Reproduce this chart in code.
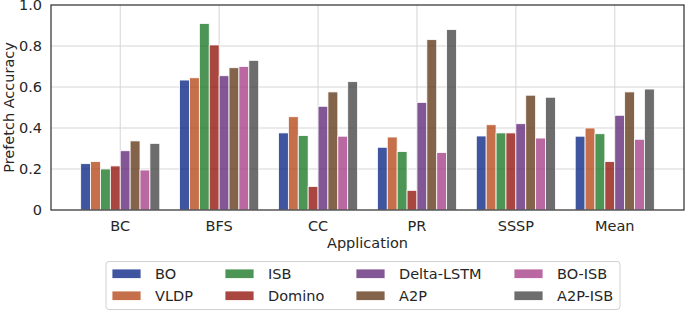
<!DOCTYPE html>
<html>
<head>
<meta charset="utf-8">
<script src="https://cdn.jsdelivr.net/npm/d3@7"></script>
<style>
  body { margin: 0; background: #fff; }
  text { font-family: "DejaVu Sans", sans-serif; fill: #262626; }
</style>
</head>
<body>
<div id="chart"></div>
<script>
const width = 685;
const height = 311;

const categories = ["BC", "BFS", "CC", "PR", "SSSP", "Mean"];
const seriesNames = ["BO", "VLDP", "ISB", "Domino", "Delta-LSTM", "A2P", "BO-ISB", "A2P-ISB"];
const seriesColors = ["#001c7f", "#b1400d", "#12711c", "#8c0800", "#591e71", "#592f0d", "#a23582", "#3c3c3c"];

// one array per series, values in category order
const BO = [0.226, 0.634, 0.376, 0.306, 0.361, 0.36];
const VLDP = [0.236, 0.645, 0.455, 0.356, 0.416, 0.40];
const ISB = [0.20, 0.91, 0.363, 0.285, 0.376, 0.372];
const Domino = [0.215, 0.805, 0.115, 0.096, 0.376, 0.236];
const DeltaLSTM = [0.289, 0.655, 0.506, 0.525, 0.421, 0.462];
const A2P = [0.337, 0.694, 0.576, 0.831, 0.56, 0.576];
const BOISB = [0.195, 0.70, 0.36, 0.28, 0.351, 0.345];
const A2PISB = [0.325, 0.73, 0.626, 0.88, 0.55, 0.59];
const seriesValues = [BO, VLDP, ISB, Domino, DeltaLSTM, A2P, BOISB, A2PISB];

const yTicks = [0, 0.2, 0.4, 0.6, 0.8, 1.0];

const margin = { left: 51, right: 1, top: 5, bottom: 101 };
const fontSize = "14.5px";

const svg = d3
  .select("#chart")
  .append("svg")
  .attr("width", width)
  .attr("height", height);

const x = d3
  .scaleLinear()
  .domain([-0.7, categories.length - 0.3])
  .range([margin.left, width - margin.right]);

const y = d3
  .scaleLinear()
  .domain([0, 1])
  .range([height - margin.bottom, margin.top]);

const barW = 0.1;

// grid lines
svg
  .append("g")
  .selectAll("line.hgrid")
  .data(yTicks.slice(1, -1))
  .enter()
  .append("line")
  .attr("x1", x.range()[0])
  .attr("x2", x.range()[1])
  .attr("y1", (d) => y(d))
  .attr("y2", (d) => y(d))
  .attr("stroke", "#d5d5d5")
  .attr("stroke-width", 1);

svg
  .append("g")
  .selectAll("line.vgrid")
  .data(categories)
  .enter()
  .append("line")
  .attr("x1", (d, i) => x(i))
  .attr("x2", (d, i) => x(i))
  .attr("y1", y(0))
  .attr("y2", y(1))
  .attr("stroke", "#d5d5d5")
  .attr("stroke-width", 1);

// bars
seriesValues.forEach((vals, s) => {
  svg
    .append("g")
    .selectAll("rect")
    .data(vals)
    .enter()
    .append("rect")
    .attr("x", (d, i) => x(i - 0.4 + s * barW))
    .attr("y", (d) => y(d))
    .attr("width", x(barW) - x(0))
    .attr("height", (d) => y(0) - y(d))
    .attr("fill", seriesColors[s])
    .attr("fill-opacity", 0.75)
    .attr("stroke", "#fff")
    .attr("stroke-width", 0.8);
});

// frame
svg
  .append("rect")
  .attr("x", x.range()[0])
  .attr("y", y(1))
  .attr("width", x.range()[1] - x.range()[0])
  .attr("height", y(0) - y(1))
  .attr("fill", "none")
  .attr("stroke", "#333")
  .attr("stroke-width", 1.25);

// y tick labels
svg
  .append("g")
  .selectAll("text")
  .data(yTicks)
  .enter()
  .append("text")
  .attr("x", x.range()[0] - 9)
  .attr("y", (d) => y(d))
  .attr("dy", "0.36em")
  .style("text-anchor", "end")
  .style("font-size", fontSize)
  .text((d) => (d === 0 ? "0" : d.toFixed(1)));

// x tick labels
svg
  .append("g")
  .selectAll("text")
  .data(categories)
  .enter()
  .append("text")
  .attr("x", (d, i) => x(i))
  .attr("y", 230.5)
  .style("text-anchor", "middle")
  .style("font-size", fontSize)
  .text((d) => d);

// axis titles
svg
  .append("text")
  .attr("x", (x.range()[0] + x.range()[1]) / 2)
  .attr("y", 248)
  .style("text-anchor", "middle")
  .style("font-size", fontSize)
  .text("Application");

svg
  .append("text")
  .attr("transform", `translate(14, ${(y(0) + y(1)) / 2}) rotate(-90)`)
  .style("text-anchor", "middle")
  .style("font-size", fontSize)
  .text("Prefetch Accuracy");

// legend
const legend = svg.append("g");
legend
  .append("rect")
  .attr("x", 106)
  .attr("y", 261.5)
  .attr("width", 514)
  .attr("height", 48)
  .attr("rx", 3)
  .attr("fill", "#fff")
  .attr("stroke", "#d0d0d0")
  .attr("stroke-width", 1);

const colX = [112, 225, 356, 514];
const rowY = [273.5, 295.5];

const items = legend
  .selectAll("g.item")
  .data(seriesNames)
  .enter()
  .append("g")
  .attr("transform", (d, i) => `translate(${colX[Math.floor(i / 2)]}, ${rowY[i % 2]})`);

items
  .append("rect")
  .attr("x", 0)
  .attr("y", -4.5)
  .attr("width", 29)
  .attr("height", 9.5)
  .attr("fill", (d, i) => seriesColors[i])
  .attr("fill-opacity", 0.75)
  .attr("stroke", "#fff")
  .attr("stroke-width", 0.8);

items
  .append("text")
  .attr("x", 43)
  .attr("dy", "0.36em")
  .style("font-size", fontSize)
  .text((d) => d);
</script>
</body>
</html>
